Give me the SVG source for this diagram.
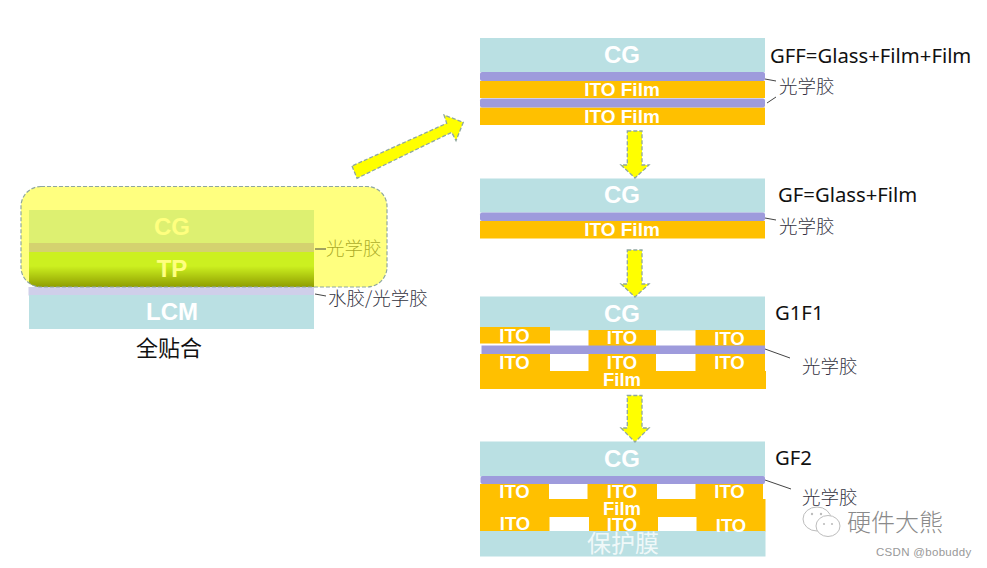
<svg xmlns="http://www.w3.org/2000/svg" width="987" height="568" viewBox="0 0 987 568">
<style>
.cg{fill:#BAE0E3}.glue{fill:#9E9BDC}.ito{fill:#FFC000}.gap{fill:#fff}
.t{font-family:"Liberation Sans",Arial,sans-serif;font-weight:bold;fill:#fff;text-anchor:middle}
.big{font-size:24px}.mid{font-size:19px}.sm{font-size:18.500px}
.lab{font-family:"Noto Sans","Open Sans",sans-serif;font-size:20.300px;fill:#111}
.cn{font-family:"Noto Sans CJK SC",sans-serif;font-weight:300;font-size:18.500px;fill:#33333f}
.arrow{fill:#FFFF00;stroke:#8FA7A0;stroke-width:1.3;stroke-dasharray:4 2}
.lead{fill:none;stroke:#444;stroke-width:1}
</style>
<defs>
<linearGradient id="tp" x1="0" y1="0" x2="0" y2="1"><stop offset="0" stop-color="#99E140"/><stop offset=".4" stop-color="#99E140"/><stop offset="1" stop-color="#1E3C00"/></linearGradient>
<clipPath id="round"><rect x="21" y="186.500" width="366" height="100.500" rx="20"/></clipPath>
</defs>
<g id="stack-full">
<rect class="cg" x="29" y="210" width="285" height="33"/>
<rect class="glue" x="29" y="243" width="285" height="9" fill-opacity=".9"/>
<rect x="29" y="252" width="285" height="35" fill="url(#tp)" clip-path="url(#round)"/>
<rect x="28.500" y="287" width="285.500" height="8.500" fill="#CFCFEA"/>
<rect class="cg" x="29" y="295" width="285" height="34"/>
<text class="t big" x="172" y="235">CG</text>
<text class="t big" x="172" y="277">TP</text>
<text class="t big" x="172" y="320">LCM</text>
<text class="cn" x="326" y="255" style="fill:#555">光学胶</text>
<text class="cn" x="328" y="305">水胶/光学胶</text>
<text x="169" y="356" style="font-family:'Noto Sans CJK SC',sans-serif;font-size:22px;fill:#111" text-anchor="middle">全贴合</text>
</g>
<g id="highlight">
<rect x="21" y="186.500" width="366" height="100.500" rx="20" fill="#FFFF00" fill-opacity=".5" stroke="#8FA7A0" stroke-width="1.2" stroke-dasharray="4 2"/>
</g>
<g id="stack-gff">
<rect class="cg" x="480" y="38" width="285" height="34"/>
<rect class="ito" x="480" y="81" width="285" height="17"/>
<rect class="ito" x="480" y="107.500" width="285" height="17.500"/>
<rect class="glue" x="480" y="72" width="285" height="9" rx="2"/>
<rect class="glue" x="480" y="98.500" width="285" height="9" rx="2"/>
<text class="t big" x="622" y="63">CG</text>
<text class="t mid" x="622" y="96">ITO Film</text>
<text class="t mid" x="622" y="122.500">ITO Film</text>
<text class="lab" x="770" y="62.500">GFF=Glass+Film+Film</text>
<text class="cn" x="779" y="93">光学胶</text>
</g>
<g id="stack-gf">
<rect class="cg" x="480" y="178.500" width="285" height="34"/>
<rect class="ito" x="480" y="221" width="285" height="17.500"/>
<rect class="glue" x="480" y="212.500" width="285" height="8.500" rx="2"/>
<text class="t big" x="622" y="203">CG</text>
<text class="t mid" x="622" y="236">ITO Film</text>
<text class="lab" x="778" y="201.500">GF=Glass+Film</text>
<text class="cn" x="779" y="233">光学胶</text>
</g>
<g id="stack-g1f1">
<rect class="cg" x="480" y="296.500" width="285" height="34"/>
<rect class="ito" x="480" y="327" width="70" height="16.500"/>
<rect class="ito" x="588.500" y="330" width="67.500" height="16"/>
<rect class="ito" x="695.500" y="330" width="69.500" height="16"/>
<rect class="ito" x="480" y="354" width="70" height="18"/>
<rect class="ito" x="588.500" y="354" width="67.500" height="18"/>
<rect class="ito" x="695.500" y="354" width="69.500" height="18"/>
<rect class="ito" x="480" y="371" width="286" height="18"/>
<rect class="glue" x="481.500" y="345.500" width="283.500" height="8.500"/>
<text class="t big" x="622" y="322">CG</text>
<text class="t sm" x="514.500" y="342">ITO</text>
<text class="t sm" x="622" y="344">ITO</text>
<text class="t sm" x="729.500" y="345">ITO</text>
<text class="t sm" x="514.500" y="369">ITO</text>
<text class="t sm" x="622" y="369">ITO</text>
<text class="t sm" x="729.500" y="369">ITO</text>
<text class="t sm" x="622" y="386">Film</text>
<text class="lab" x="775" y="320">G1F1</text>
<text class="cn" x="802" y="373">光学胶</text>
</g>
<g id="stack-gf2">
<rect class="cg" x="480" y="441.500" width="285" height="35"/>
<rect class="ito" x="480" y="484" width="285.500" height="47.500"/>
<rect class="gap" x="549" y="484" width="38.500" height="15"/>
<rect class="gap" x="657" y="484" width="38.500" height="15"/>
<rect class="gap" x="763" y="484" width="3" height="15"/>
<rect class="gap" x="549.500" y="517" width="39.500" height="14"/>
<rect class="gap" x="658" y="517" width="38.500" height="14"/>
<rect class="glue" x="480.500" y="476" width="284.500" height="8" rx="2"/>
<rect class="cg" x="480" y="531" width="285.500" height="25.500"/>
<text class="t big" x="622" y="467">CG</text>
<text class="t sm" x="514.500" y="498">ITO</text>
<text class="t sm" x="622" y="498">ITO</text>
<text class="t sm" x="729.500" y="498">ITO</text>
<text class="t sm" x="622" y="515">Film</text>
<text class="t sm" x="515" y="530">ITO</text>
<text class="t sm" x="622" y="531">ITO</text>
<text class="t sm" x="731" y="532">ITO</text>
<text x="623" y="552" text-anchor="middle" style="font-family:'Noto Sans CJK SC',sans-serif;font-size:24px;fill:#fff;fill-opacity:.8">保护膜</text>
<text class="lab" x="775" y="465">GF2</text>
<text class="cn" x="802" y="504">光学胶</text>
</g>
<g id="connectors">
<polygon class="arrow" points="352,166 357,178.300 451.700,132.300 456,140.700 463.300,122.300 444,115 446.700,123.300"/>
<polygon class="arrow" points="627.300,131 642,131 642,165 649,165 635,178 621,165 627.300,165"/>
<polygon class="arrow" points="627.300,250 642,250 642,284 649,284 635,297 621,284 627.300,284"/>
<polygon class="arrow" points="627.300,395.500 642,395.500 642,428 649,428 635,442 621,428 627.300,428"/>
<path class="lead" d="M315,249 L326,249 M315,294 L326,296 M765,79 L776,81 M767,103 L776,97 M765,218 L776,220 M765,349 L790,358 M765,480 L791,489"/>
</g>
<g id="watermark">
<g fill="#fff" stroke="#BDBDBD" stroke-width="1">
<ellipse cx="817" cy="519" rx="14" ry="12"/>
<ellipse cx="828" cy="526" rx="12" ry="10.500"/>
</g>
<g fill="#BDBDBD"><circle cx="812" cy="514" r="1.200"/><circle cx="821" cy="514" r="1.200"/><circle cx="824" cy="524" r="1.100"/><circle cx="832" cy="524" r="1.100"/></g>
<text x="847" y="531" style="font-family:'Noto Sans CJK SC',sans-serif;font-weight:300;font-size:24px;fill:#8a8a8a">硬件大熊</text>
<text x="876" y="556" style="font-family:'Liberation Sans',Arial,sans-serif;font-size:11.500px;fill:#999;letter-spacing:.3px">CSDN @bobuddy</text>
</g>
</svg>
